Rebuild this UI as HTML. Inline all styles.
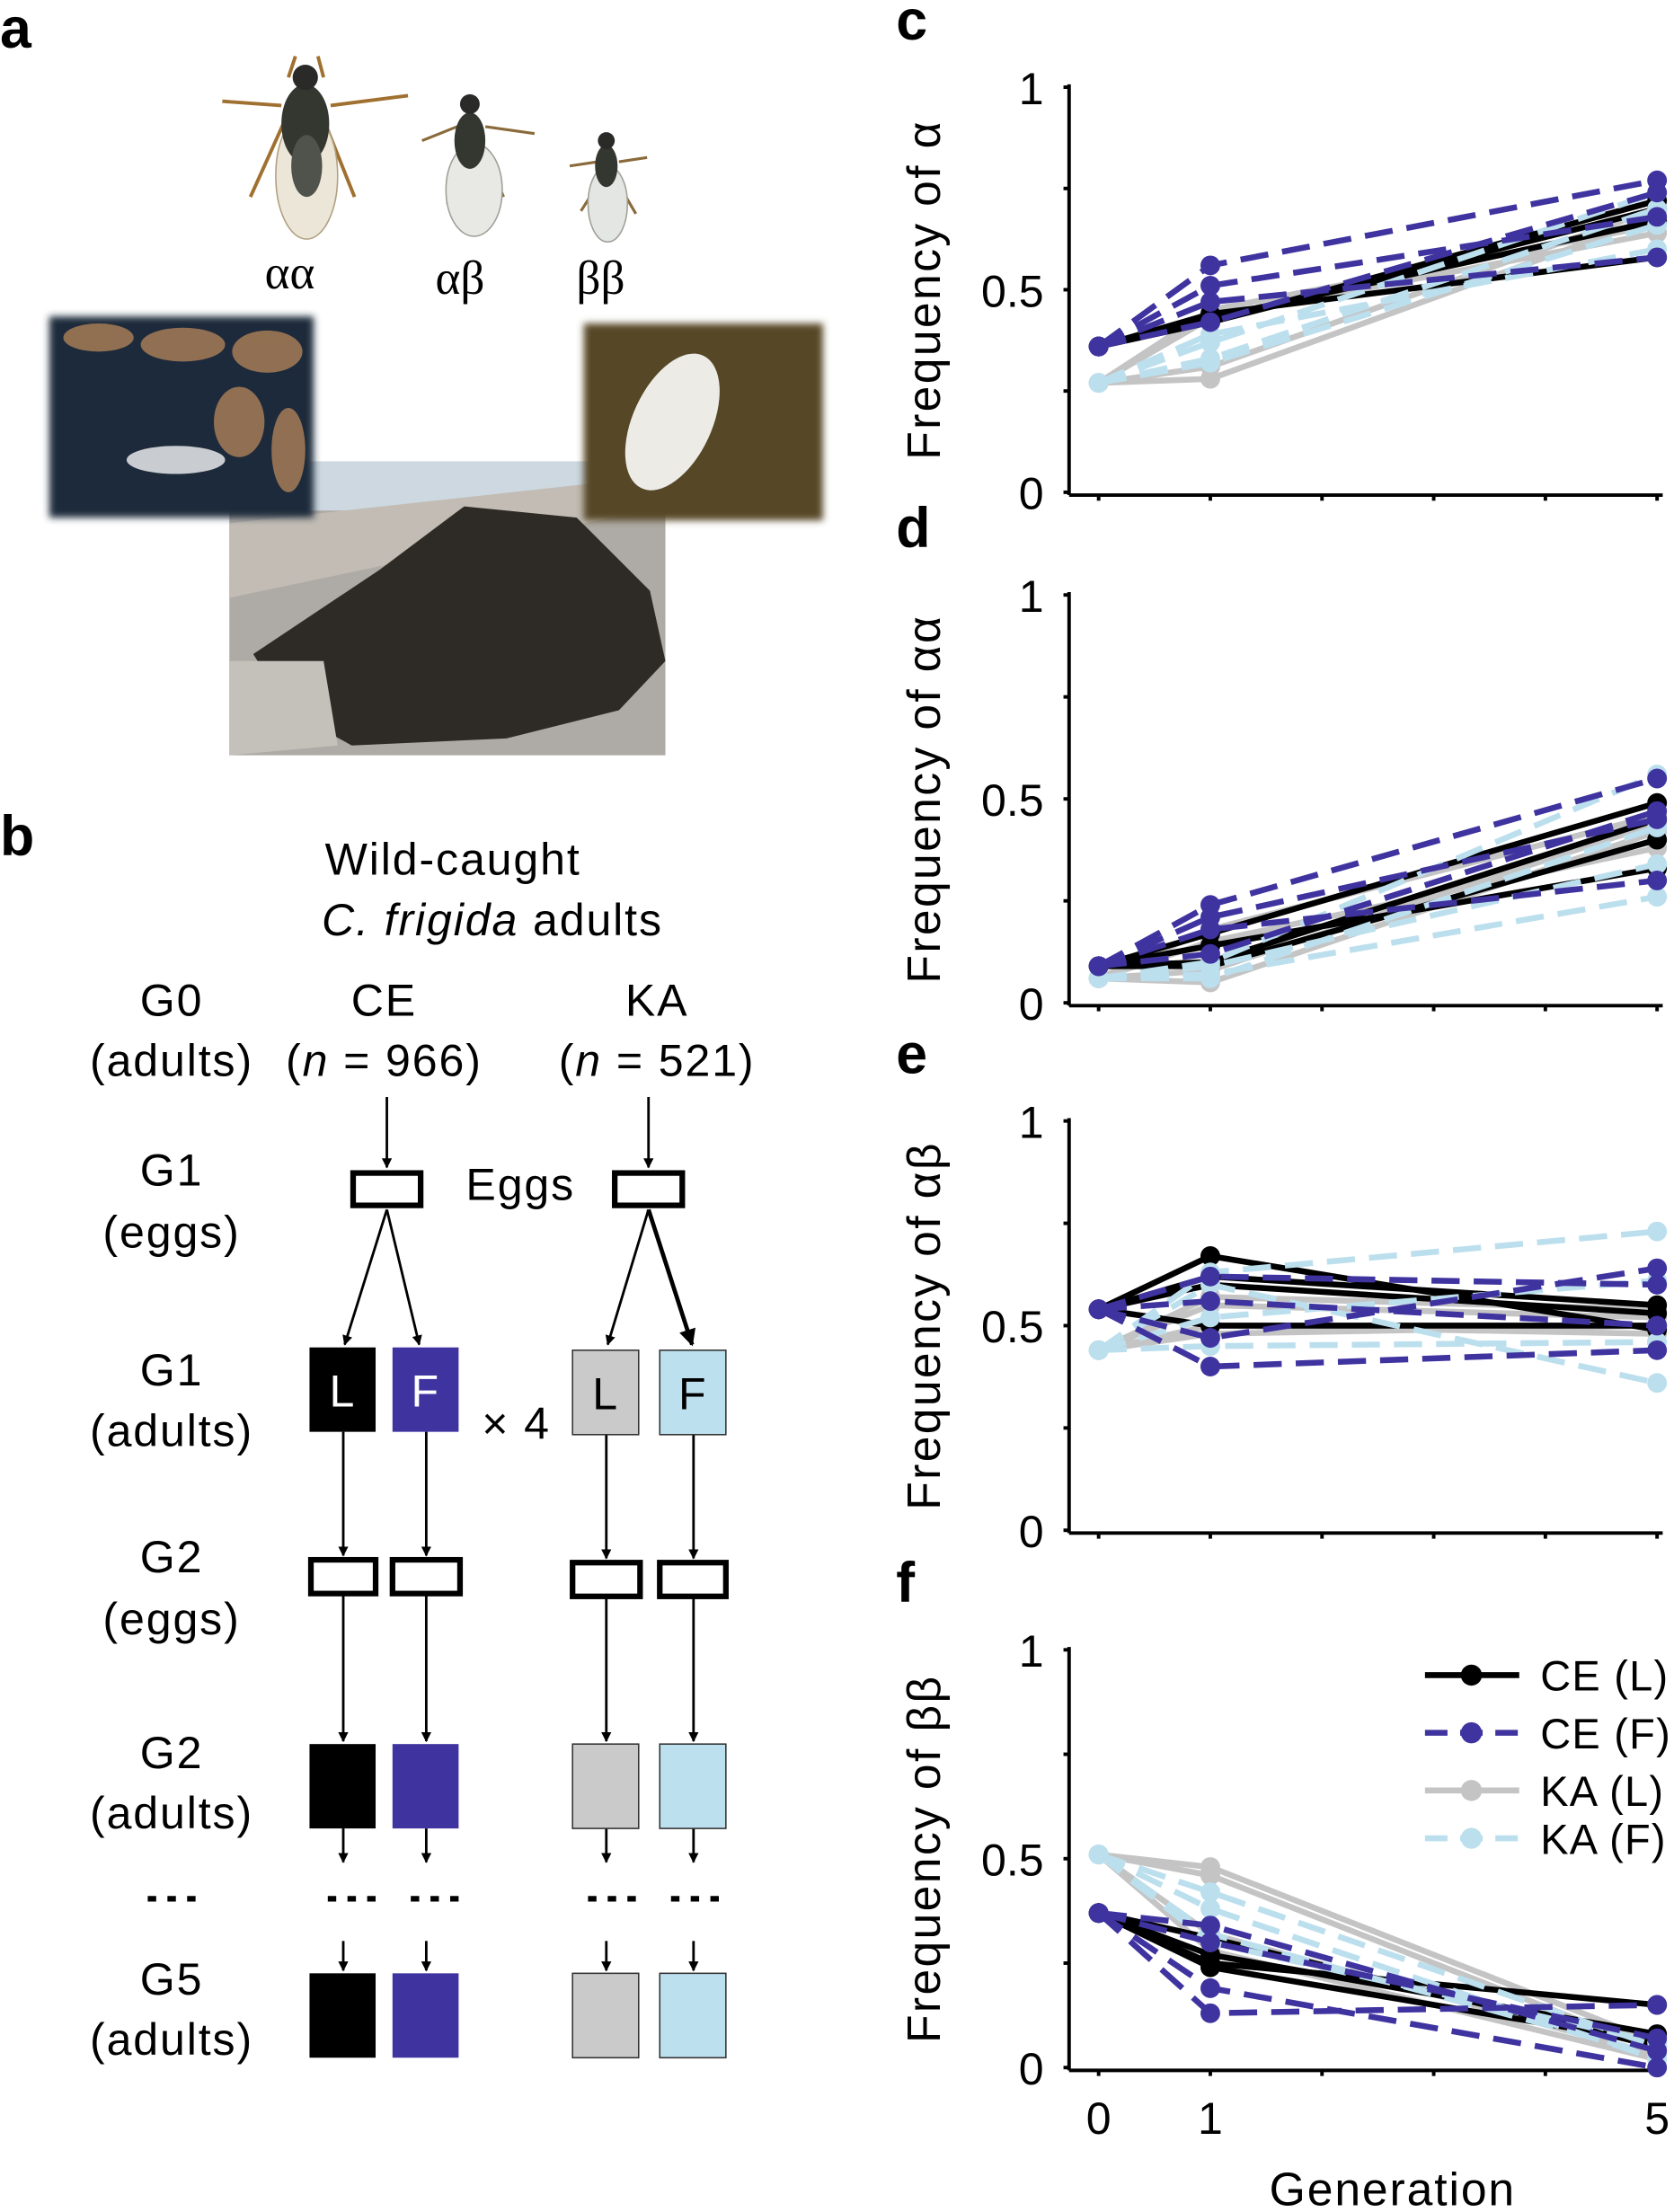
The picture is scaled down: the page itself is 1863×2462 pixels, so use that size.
<!DOCTYPE html>
<html><head><meta charset="utf-8">
<style>
html,body{margin:0;padding:0;background:#fff;}
svg{display:block;font-family:"Liberation Sans",sans-serif;}
</style></head>
<body>
<svg id="fig" width="1863" height="2462" viewBox="0 0 1190 1572.7" xmlns="http://www.w3.org/2000/svg">
<defs>
<marker id="ah" viewBox="0 0 10 10" refX="9" refY="5" markerWidth="4" markerHeight="4" orient="auto"><path d="M0,0 L10,5 L0,10 z" fill="#000"/></marker>
<filter id="blur"><feGaussianBlur stdDeviation="2.5"/></filter>
</defs>

<!-- Panel a -->
<text x="0" y="34" font-size="40" font-weight="bold">a</text>
<g>
  <g stroke="#a07030" stroke-width="2.5" fill="none">
    <line x1="205" y1="80" x2="178" y2="140"/><line x1="228" y1="80" x2="252" y2="140"/>
    <line x1="200" y1="75" x2="158" y2="72"/><line x1="235" y1="75" x2="290" y2="68"/>
    <line x1="210" y1="40" x2="205" y2="55"/><line x1="226" y1="40" x2="230" y2="55"/>
  </g>
  <ellipse cx="218" cy="125" rx="22" ry="45" fill="#ece6d8" stroke="#b0a080" stroke-width="1"/>
  <ellipse cx="217" cy="88" rx="17" ry="28" fill="#34372f"/>
  <ellipse cx="218" cy="118" rx="11" ry="22" fill="#50534b"/>
  <circle cx="217" cy="55" r="9" fill="#2a2a28"/>
  <g stroke="#8a6a3a" stroke-width="2" fill="none">
    <line x1="325" y1="90" x2="300" y2="100"/><line x1="345" y1="90" x2="380" y2="95"/>
    <line x1="328" y1="110" x2="318" y2="145"/><line x1="345" y1="110" x2="358" y2="140"/>
  </g>
  <ellipse cx="337" cy="135" rx="20" ry="33" fill="#e8e8e4" stroke="#a0a098" stroke-width="1"/>
  <ellipse cx="334" cy="100" rx="11" ry="20" fill="#34372f"/>
  <circle cx="334" cy="74" r="7" fill="#2a2a28"/>
  <g stroke="#8a6a3a" stroke-width="2" fill="none">
    <line x1="425" y1="115" x2="405" y2="118"/><line x1="440" y1="115" x2="460" y2="112"/>
    <line x1="427" y1="128" x2="413" y2="150"/><line x1="438" y1="128" x2="452" y2="152"/>
  </g>
  <ellipse cx="432" cy="145" rx="14" ry="27" fill="#e4e6e4" stroke="#a0a098" stroke-width="1"/>
  <ellipse cx="431" cy="118" rx="8" ry="15" fill="#34372f"/>
  <circle cx="431" cy="100" r="6" fill="#2a2a28"/>
</g>
<text x="206" y="205" font-size="34" font-family="Liberation Serif,serif" text-anchor="middle">αα</text>
<text x="327" y="209" font-size="34" font-family="Liberation Serif,serif" text-anchor="middle">αβ</text>
<text x="427" y="209" font-size="34" font-family="Liberation Serif,serif" text-anchor="middle">ββ</text>

<g>
  <rect x="163" y="328" width="310" height="209" fill="#aeaba6"/>
  <rect x="163" y="328" width="310" height="35" fill="#cdd8e0"/>
  <polygon points="163,372 473,338 473,360 163,425" fill="#c2bcb4"/>
  <polygon points="180,465 270,405 330,360 410,368 462,420 473,470 440,505 360,525 250,530 205,505" fill="#2e2b26"/>
  <polygon points="163,470 230,470 240,530 163,537" fill="#c4c1bb"/>
</g>
<g>
  <rect x="35" y="225" width="188" height="143" fill="#1f2a3a" filter="url(#blur)"/>
  <g fill="#b8875a" opacity="0.75">
    <ellipse cx="70" cy="240" rx="25" ry="10"/><ellipse cx="130" cy="245" rx="30" ry="12"/>
    <ellipse cx="190" cy="250" rx="25" ry="15"/><ellipse cx="170" cy="300" rx="18" ry="25"/>
    <ellipse cx="205" cy="320" rx="12" ry="30"/>
  </g>
  <ellipse cx="125" cy="327" rx="35" ry="10" fill="#c9cdd1"/>
</g>
<g>
  <rect x="415" y="230" width="170" height="140" fill="#574725" filter="url(#blur)"/>
  <ellipse cx="478" cy="300" rx="28" ry="52" fill="#ecebe6" transform="rotate(25 478 300)"/>
</g>

<!-- Panel b -->
<text x="0" y="608" font-size="40" font-weight="bold">b</text>
<g font-size="32" letter-spacing="1.2" text-anchor="middle">
  <text x="322" y="622">Wild-caught</text>
  <text x="350" y="665"><tspan font-style="italic">C. frigida</tspan> adults</text>
  <text x="122" y="722">G0</text>
  <text x="122" y="765">(adults)</text>
  <text x="273" y="722">CE</text>
  <text x="273" y="765">(<tspan font-style="italic">n</tspan> = 966)</text>
  <text x="467" y="722">KA</text>
  <text x="467" y="765">(<tspan font-style="italic">n</tspan> = 521)</text>
  <text x="122" y="843">G1</text>
  <text x="122" y="887">(eggs)</text>
  <text x="370" y="853">Eggs</text>
  <text x="122" y="985">G1</text>
  <text x="122" y="1028">(adults)</text>
  <text x="367" y="1023">× 4</text>
  <text x="122" y="1118">G2</text>
  <text x="122" y="1162">(eggs)</text>
  <text x="122" y="1257">G2</text>
  <text x="122" y="1300">(adults)</text>
  <text x="122" y="1418">G5</text>
  <text x="122" y="1461">(adults)</text>
</g>
<g stroke="#000" stroke-width="1.8" fill="none">
  <line x1="275" y1="780" x2="275" y2="830" marker-end="url(#ah)"/>
  <line x1="461" y1="780" x2="461" y2="830" marker-end="url(#ah)"/>
  <line x1="275" y1="860" x2="245" y2="956" marker-end="url(#ah)"/>
  <line x1="275" y1="860" x2="298" y2="956" marker-end="url(#ah)"/>
  <line x1="461" y1="860" x2="432" y2="956" marker-end="url(#ah)"/>
  <line x1="461" y1="860" x2="492" y2="956" stroke-width="3" marker-end="url(#ah)"/>
  <line x1="244" y1="1018" x2="244" y2="1106" marker-end="url(#ah)"/>
  <line x1="303" y1="1018" x2="303" y2="1106" marker-end="url(#ah)"/>
  <line x1="431" y1="1018" x2="431" y2="1108" marker-end="url(#ah)"/>
  <line x1="493" y1="1018" x2="493" y2="1108" marker-end="url(#ah)"/>
  <line x1="244" y1="1134" x2="244" y2="1238" marker-end="url(#ah)"/>
  <line x1="303" y1="1134" x2="303" y2="1238" marker-end="url(#ah)"/>
  <line x1="431" y1="1136" x2="431" y2="1238" marker-end="url(#ah)"/>
  <line x1="493" y1="1136" x2="493" y2="1238" marker-end="url(#ah)"/>
  <line x1="244" y1="1300" x2="244" y2="1324" marker-end="url(#ah)"/>
  <line x1="303" y1="1300" x2="303" y2="1324" marker-end="url(#ah)"/>
  <line x1="431" y1="1300" x2="431" y2="1324" marker-end="url(#ah)"/>
  <line x1="493" y1="1300" x2="493" y2="1324" marker-end="url(#ah)"/>
  <line x1="244" y1="1380" x2="244" y2="1401" marker-end="url(#ah)"/>
  <line x1="303" y1="1380" x2="303" y2="1401" marker-end="url(#ah)"/>
  <line x1="431" y1="1380" x2="431" y2="1401" marker-end="url(#ah)"/>
  <line x1="493" y1="1380" x2="493" y2="1401" marker-end="url(#ah)"/>
</g>
<g stroke="#000" stroke-width="4" fill="#fff">
  <rect x="251" y="834" width="48" height="23"/><rect x="437" y="834" width="48" height="23"/>
  <rect x="221" y="1109" width="46" height="24"/><rect x="279" y="1109" width="48" height="24"/>
  <rect x="407" y="1111" width="48" height="24"/><rect x="469" y="1111" width="47" height="24"/>
</g>
<g>
  <rect x="220" y="958" width="47" height="60" fill="#000"/>
  <rect x="279" y="958" width="47" height="60" fill="#3f33a0"/>
  <rect x="407" y="960" width="47" height="60" fill="#cacaca" stroke="#333" stroke-width="1"/>
  <rect x="469" y="960" width="47" height="60" fill="#bde0ef" stroke="#333" stroke-width="1"/>
  <text x="243" y="1000" font-size="32" fill="#fff" text-anchor="middle">L</text>
  <text x="302" y="1000" font-size="32" fill="#fff" text-anchor="middle">F</text>
  <text x="430" y="1002" font-size="32" fill="#000" text-anchor="middle">L</text>
  <text x="492" y="1002" font-size="32" fill="#000" text-anchor="middle">F</text>
  <rect x="220" y="1240" width="47" height="60" fill="#000"/>
  <rect x="279" y="1240" width="47" height="60" fill="#3f33a0"/>
  <rect x="407" y="1240" width="47" height="60" fill="#cacaca" stroke="#333" stroke-width="1"/>
  <rect x="469" y="1240" width="47" height="60" fill="#bde0ef" stroke="#333" stroke-width="1"/>
  <rect x="220" y="1403" width="47" height="60" fill="#000"/>
  <rect x="279" y="1403" width="47" height="60" fill="#3f33a0"/>
  <rect x="407" y="1403" width="47" height="60" fill="#cacaca" stroke="#333" stroke-width="1"/>
  <rect x="469" y="1403" width="47" height="60" fill="#bde0ef" stroke="#333" stroke-width="1"/>
</g>
<g stroke="#000" stroke-width="4" stroke-dasharray="6,8">
  <line x1="105" y1="1350" x2="140" y2="1350"/>
  <line x1="233" y1="1350" x2="268" y2="1350"/>
  <line x1="292" y1="1350" x2="328" y2="1350"/>
  <line x1="418" y1="1350" x2="453" y2="1350"/>
  <line x1="477" y1="1350" x2="512" y2="1350"/>
</g>

<g id="charts"></g>
</svg>

<script>
const generations = [0, 1, 5];
const groupNames = ["CE (L)", "CE (F)", "KA (L)", "KA (F)"];
const yTickLabels = ["0", "0.5", "1"];
const xTickLabels = ["0", "1", "5"];
const panelLetters = ["c", "d", "e", "f"];
const yTitles = ["Frequency of α", "Frequency of αα", "Frequency of αβ", "Frequency of ββ"];

// c: alpha — each group: 4 replicates of [gen0, gen1, gen5]
const alphaCEL = [[0.36,0.42,0.72],[0.36,0.43,0.67],[0.36,0.44,0.58],[0.36,0.42,0.70]];
const alphaCEF = [[0.36,0.56,0.77],[0.36,0.51,0.68],[0.36,0.47,0.58],[0.36,0.42,0.74]];
const alphaKAL = [[0.27,0.28,0.68],[0.27,0.31,0.70],[0.27,0.45,0.66],[0.27,0.43,0.64]];
const alphaKAF = [[0.27,0.37,0.74],[0.27,0.39,0.60],[0.27,0.32,0.66],[0.27,0.33,0.70]];
// d: alpha-alpha
const aaCEL = [[0.09,0.17,0.49],[0.09,0.09,0.40],[0.09,0.14,0.33],[0.09,0.10,0.45]];
const aaCEF = [[0.09,0.24,0.55],[0.09,0.21,0.45],[0.09,0.18,0.30],[0.09,0.12,0.47]];
const aaKAL = [[0.06,0.05,0.42],[0.06,0.08,0.44],[0.06,0.15,0.38],[0.06,0.18,0.46]];
const aaKAF = [[0.06,0.10,0.56],[0.06,0.09,0.34],[0.06,0.07,0.26],[0.06,0.06,0.43]];
// e: alpha-beta
const abCEL = [[0.54,0.67,0.49],[0.54,0.60,0.53],[0.54,0.50,0.50],[0.54,0.62,0.55]];
const abCEF = [[0.54,0.40,0.44],[0.54,0.47,0.64],[0.54,0.62,0.60],[0.54,0.56,0.50]];
const abKAL = [[0.44,0.55,0.52],[0.44,0.50,0.48],[0.44,0.57,0.54],[0.44,0.48,0.50]];
const abKAF = [[0.44,0.63,0.73],[0.44,0.60,0.36],[0.44,0.52,0.61],[0.44,0.45,0.46]];
// f: beta-beta
const bbCEL = [[0.37,0.25,0.15],[0.37,0.27,0.08],[0.37,0.31,0.05],[0.37,0.24,0.06]];
const bbCEF = [[0.37,0.13,0.15],[0.37,0.19,0.00],[0.37,0.34,0.04],[0.37,0.30,0.07]];
const bbKAL = [[0.51,0.48,0.06],[0.51,0.46,0.04],[0.51,0.28,0.02],[0.51,0.32,0.03]];
const bbKAF = [[0.51,0.42,0.05],[0.51,0.38,0.02],[0.51,0.32,0.03],[0.51,0.30,0.06]];

const panelData = [
  [alphaCEL, alphaCEF, alphaKAL, alphaKAF],
  [aaCEL, aaCEF, aaKAL, aaKAF],
  [abCEL, abCEF, abKAL, abKAF],
  [bbCEL, bbCEF, bbKAL, bbKAF]
];

const NS = "http://www.w3.org/2000/svg";
const root = document.getElementById("charts");
const styles = [
  {color:"#000000", dash:null},
  {color:"#3f33a0", dash:"20,10"},
  {color:"#c4c4c4", dash:null},
  {color:"#bcdfee", dash:"20,10"}
];
const drawOrder = [2, 0, 3, 1];
const panelTops = [62, 423, 797, 1173];
const panelBottoms = [350, 713, 1088, 1470];
const axisX = 760, x0 = 781, xStep = 79.4;

function mk(tag, attrs, parent) {
  const e = document.createElementNS(NS, tag);
  for (const k in attrs) e.setAttribute(k, attrs[k]);
  parent.appendChild(e);
  return e;
}
function xScale(g) { return x0 + g * xStep; }

panelData.forEach((groups, p) => {
  const top = panelTops[p], bot = panelBottoms[p];
  const yScale = v => bot - v * (bot - top);
  const g = mk("g", {}, root);
  
  

  const lt = mk("text", {x: 637, y: top - 34, "font-size": 40, "font-weight": "bold"}, g);
  lt.textContent = panelLetters[p];
  
  

  const yt = mk("text", {x: 0, y: 0, "font-size": 33, "letter-spacing": 1.5, "text-anchor": "middle",
    transform: "translate(668," + ((top + bot) / 2) + ") rotate(-90)"}, g);
  yt.textContent = yTitles[p];
  
  

  const ya = mk("line", {x1: axisX, y1: top - 2, x2: axisX, y2: bot + 2, stroke: "#000", "stroke-width": 2.5}, g);
  
  
  const xa = mk("line", {x1: axisX, y1: bot + 2, x2: xScale(5) + 4, y2: bot + 2, stroke: "#000", "stroke-width": 2.5}, g);
  
  

  [0, 0.25, 0.5, 0.75, 1].forEach(v => {
    mk("line", {x1: axisX - 4, y1: yScale(v), x2: axisX, y2: yScale(v), stroke: "#000", "stroke-width": 2.5}, g);
  });
  yTickLabels.forEach(lbl => {
    const v = parseFloat(lbl);
    const t = mk("text", {x: 742, y: yScale(v) + 12, "font-size": 32, "text-anchor": "end"}, g);
    t.textContent = lbl;
    
    
  });
  for (let k = 0; k <= 5; k++) {
    mk("line", {x1: xScale(k), y1: bot + 2, x2: xScale(k), y2: bot + 6, stroke: "#000", "stroke-width": 2.5}, g);
  }
  if (p === 3) {
    xTickLabels.forEach(lbl => {
      const t = mk("text", {x: xScale(parseFloat(lbl)), y: bot + 47, "font-size": 32, "text-anchor": "middle"}, g);
      t.textContent = lbl;
      
      
    });
    const xt = mk("text", {x: 990, y: 1568, "font-size": 33, "letter-spacing": 1.2, "text-anchor": "middle"}, g);
    xt.textContent = "Generation";
    
    
  }

  drawOrder.forEach(gi => {
    const st = styles[gi];
    groups[gi].forEach((rep, r) => {
      const pts = rep.map((v, i) => xScale(generations[i]) + "," + yScale(v)).join(" ");
      const pl = mk("polyline", {points: pts, fill: "none", stroke: st.color, "stroke-width": 4.2}, g);
      if (st.dash) pl.setAttribute("stroke-dasharray", st.dash);
      
      
      rep.forEach((v, i) => {
        const c = mk("circle", {cx: xScale(generations[i]), cy: yScale(v), r: 7, fill: st.color}, g);
        
        
      });
    });
  });

  if (p === 3) {
    const leg = mk("g", {}, g);
    
    
    const ly = [1191, 1232, 1273, 1307];
    groupNames.forEach((name, i) => {
      const st = styles[i];
      const ln = mk("line", {x1: 1013, y1: ly[i], x2: 1080, y2: ly[i], stroke: st.color, "stroke-width": 4.2}, leg);
      if (st.dash) ln.setAttribute("stroke-dasharray", "16,9");
      mk("circle", {cx: 1046, cy: ly[i], r: 7.5, fill: st.color}, leg);
      const t = mk("text", {x: 1095, y: ly[i] + 11, "font-size": 30, "letter-spacing": 0.8}, leg);
      t.textContent = name;
      
      
    });
  }
});
</script>
</body></html>
